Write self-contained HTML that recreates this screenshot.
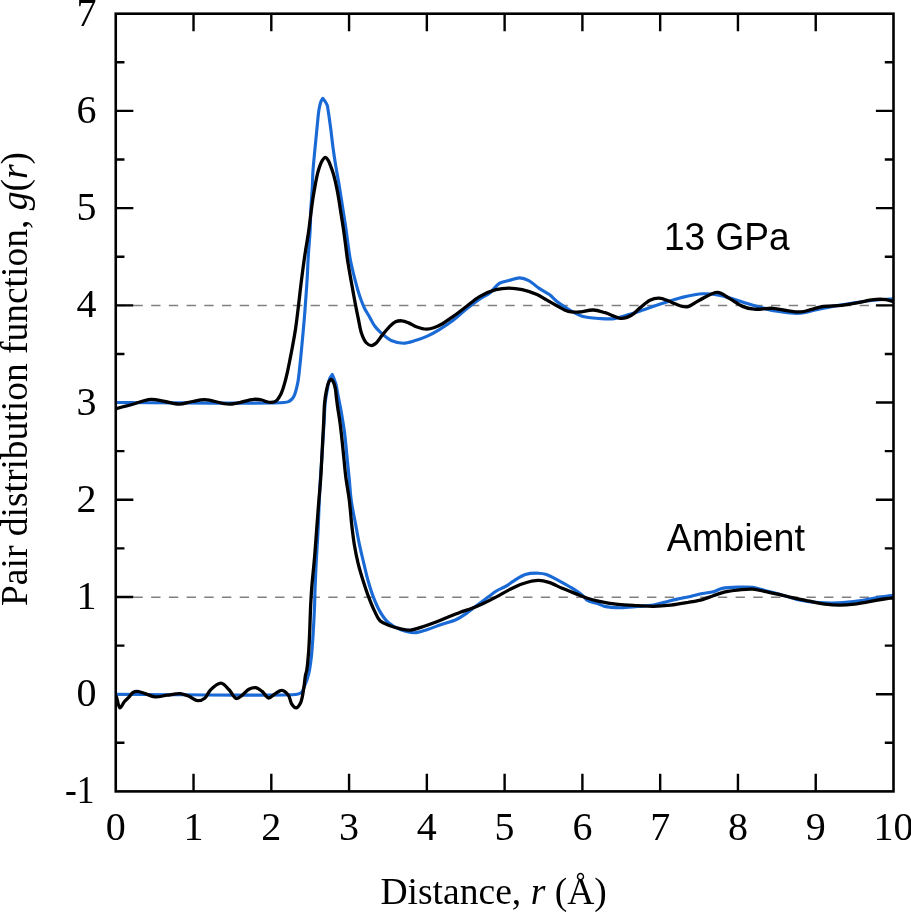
<!DOCTYPE html>
<html><head><meta charset="utf-8"><title>Pair distribution function</title>
<style>html,body{margin:0;padding:0;background:#fff;width:911px;height:912px;overflow:hidden}svg{display:block}.sf{font-family:"Liberation Serif",serif}.ss{font-family:"Liberation Sans",sans-serif}</style>
</head><body>
<svg width="911" height="912" viewBox="0 0 911 912"><line x1="115.75" y1="305.54" x2="893.50" y2="305.54" stroke="#808080" stroke-width="1.5" stroke-dasharray="9.35 8.36"/>
<line x1="115.75" y1="597.18" x2="893.50" y2="597.18" stroke="#808080" stroke-width="1.5" stroke-dasharray="9.35 8.36"/>
<path d="M115.75,694.19H133.35M893.50,694.19H875.90M115.75,596.98H133.35M893.50,596.98H875.90M115.75,499.76H133.35M893.50,499.76H875.90M115.75,402.55H133.35M893.50,402.55H875.90M115.75,305.34H133.35M893.50,305.34H875.90M115.75,208.12H133.35M893.50,208.12H875.90M115.75,110.91H133.35M893.50,110.91H875.90M115.75,742.79H124.45M893.50,742.79H884.80M115.75,645.58H124.45M893.50,645.58H884.80M115.75,548.37H124.45M893.50,548.37H884.80M115.75,451.16H124.45M893.50,451.16H884.80M115.75,353.94H124.45M893.50,353.94H884.80M115.75,256.73H124.45M893.50,256.73H884.80M115.75,159.52H124.45M893.50,159.52H884.80M115.75,62.31H124.45M893.50,62.31H884.80M193.53,791.40V773.80M193.53,13.70V31.30M271.30,791.40V773.80M271.30,13.70V31.30M349.07,791.40V773.80M349.07,13.70V31.30M426.85,791.40V773.80M426.85,13.70V31.30M504.62,791.40V773.80M504.62,13.70V31.30M582.40,791.40V773.80M582.40,13.70V31.30M660.17,791.40V773.80M660.17,13.70V31.30M737.95,791.40V773.80M737.95,13.70V31.30M815.73,791.40V773.80M815.73,13.70V31.30" stroke="#000" stroke-width="2.40" fill="none"/>
<clipPath id="pc"><rect x="115.75" y="13.70" width="777.75" height="777.70"/></clipPath><g clip-path="url(#pc)">
<path d="M115.80,694.20 C176.27,694.20 282.31,696.62 297.20,694.20 C299.35,693.85 299.85,693.66 300.80,693.00 C301.68,692.39 302.23,691.51 302.80,690.50 C303.50,689.26 303.90,687.54 304.50,686.00 C305.13,684.37 305.85,682.82 306.50,681.00 C307.26,678.88 308.03,676.86 308.70,674.00 C309.71,669.67 310.58,663.59 311.30,657.40 C312.20,649.63 312.75,639.80 313.30,631.00 C313.85,622.23 314.29,612.60 314.60,604.70 C314.85,598.22 314.85,593.68 315.10,587.00 C315.43,578.29 315.99,566.49 316.50,556.90 C316.97,548.13 317.58,540.02 318.00,531.70 C318.41,523.55 318.61,516.03 319.00,507.50 C319.43,497.92 319.96,485.75 320.50,477.00 C320.91,470.39 321.41,465.52 321.80,459.60 C322.21,453.43 322.52,447.01 322.90,440.70 C323.28,434.37 323.72,428.03 324.10,421.70 C324.48,415.39 324.55,408.70 325.20,402.80 C325.78,397.55 326.80,392.31 327.60,388.00 C328.23,384.62 328.53,381.42 329.50,379.00 C330.24,377.16 331.37,376.00 332.30,374.50 C332.97,376.17 333.68,377.83 334.30,379.50 C334.91,381.16 335.50,382.59 336.00,384.50 C336.64,386.94 337.05,390.10 337.60,393.00 C338.18,396.03 338.81,399.25 339.40,402.30 C339.97,405.25 340.53,407.86 341.10,411.00 C341.77,414.67 342.47,418.96 343.10,423.00 C343.74,427.12 344.33,430.77 344.90,435.50 C345.65,441.65 346.29,449.65 347.00,456.80 C347.72,464.05 348.50,471.43 349.20,478.70 C349.90,485.90 350.18,492.77 351.20,500.20 C352.31,508.29 354.35,517.59 355.80,525.40 C357.06,532.18 358.07,538.09 359.40,544.40 C360.73,550.72 362.33,557.15 363.80,563.30 C365.20,569.17 366.39,574.85 368.00,580.50 C369.60,586.11 371.34,591.81 373.40,597.10 C375.37,602.15 377.44,607.27 380.00,611.60 C382.33,615.55 384.66,619.26 387.90,622.20 C391.23,625.22 395.49,627.66 399.80,629.40 C404.26,631.20 409.59,632.75 414.30,632.70 C418.81,632.65 423.14,630.71 427.50,629.40 C431.91,628.08 436.02,626.37 440.60,624.80 C445.61,623.08 451.77,621.68 456.40,619.50 C460.41,617.61 464.08,614.90 467.00,612.90 C469.17,611.42 470.37,610.39 472.50,608.80 C475.48,606.58 479.44,603.60 483.20,600.80 C487.37,597.70 492.29,593.53 496.40,591.00 C499.65,589.00 502.70,588.09 505.60,586.40 C508.39,584.78 510.56,582.90 513.50,581.10 C517.00,578.95 521.11,575.81 525.30,574.50 C529.45,573.20 534.67,573.08 538.50,573.20 C541.48,573.30 543.51,573.56 546.40,574.50 C550.33,575.77 555.48,578.91 559.60,581.10 C563.33,583.08 566.53,584.82 570.10,587.00 C573.99,589.38 578.89,592.33 582.00,594.90 C584.30,596.80 585.14,599.08 587.50,600.50 C590.32,602.20 595.09,602.60 598.20,603.70 C600.69,604.58 602.07,605.74 604.80,606.40 C608.88,607.38 615.23,607.68 620.60,607.70 C626.19,607.72 632.11,606.86 637.70,606.40 C643.07,605.96 648.80,605.79 653.50,605.00 C657.38,604.35 660.30,603.32 664.00,602.40 C668.15,601.37 672.79,600.09 677.20,599.10 C681.59,598.12 686.11,597.45 690.40,596.50 C694.53,595.58 698.58,594.32 702.50,593.50 C706.16,592.74 709.81,592.59 713.20,591.70 C716.42,590.86 718.80,589.17 722.40,588.40 C727.17,587.38 734.21,587.26 739.50,587.10 C744.07,586.96 747.96,586.72 752.30,587.30 C756.92,587.92 761.45,589.62 766.40,590.90 C771.92,592.33 778.07,593.90 783.90,595.50 C789.77,597.10 795.59,599.31 801.50,600.50 C807.32,601.67 813.68,602.19 819.10,602.60 C823.73,602.95 827.65,603.03 832.00,603.00 C836.45,602.97 840.72,602.81 845.50,602.40 C850.96,601.94 857.17,601.10 863.00,600.20 C868.87,599.30 875.18,597.85 880.60,597.00 C885.22,596.28 889.20,595.87 893.50,595.30" fill="none" stroke="#1a6ad6" stroke-width="3.15" stroke-linejoin="round" stroke-linecap="round"/>
<path d="M115.80,696.00 C116.07,696.47 116.29,696.69 116.60,697.40 C117.41,699.25 118.43,707.66 119.90,707.90 C121.11,708.10 122.76,703.61 124.30,701.80 C125.70,700.15 127.27,698.93 128.70,697.40 C130.17,695.83 131.39,693.48 133.00,692.50 C134.34,691.68 135.73,691.37 137.40,691.40 C139.61,691.44 142.38,692.76 145.10,693.60 C148.20,694.56 151.49,696.58 155.00,696.90 C158.79,697.25 162.98,695.74 167.10,695.20 C171.40,694.64 176.39,693.25 180.30,693.60 C183.54,693.89 186.14,695.15 189.00,696.30 C191.97,697.50 195.01,700.54 197.80,700.70 C200.21,700.84 202.70,699.73 204.70,698.20 C207.04,696.41 208.01,692.40 210.50,690.00 C213.27,687.33 217.69,683.04 220.90,683.20 C223.85,683.35 226.57,687.31 229.10,689.80 C231.72,692.38 233.81,698.02 236.30,698.50 C238.24,698.87 240.33,696.60 242.30,695.20 C244.54,693.60 246.53,690.46 248.90,689.20 C250.97,688.10 253.36,687.29 255.50,687.60 C257.77,687.92 260.00,689.79 262.10,691.40 C264.42,693.18 266.40,697.77 268.70,698.00 C270.82,698.21 273.07,694.90 275.30,693.60 C277.44,692.35 279.68,690.12 281.80,690.30 C284.05,690.49 286.77,693.03 288.40,695.20 C290.15,697.52 290.18,701.79 291.70,704.00 C292.90,705.75 294.68,707.99 296.10,707.90 C297.62,707.81 299.33,705.21 300.50,702.90 C302.27,699.40 302.95,692.82 303.80,688.00 C304.58,683.54 304.87,678.20 305.50,675.00 C305.88,673.10 306.33,672.55 306.70,670.50 C307.47,666.27 308.20,657.38 308.70,650.80 C309.20,644.21 309.39,638.07 309.70,631.00 C310.06,622.86 310.30,612.60 310.70,604.70 C311.02,598.22 311.28,593.67 311.80,587.00 C312.48,578.29 313.79,566.49 314.60,556.90 C315.34,548.13 315.87,540.10 316.50,531.70 C317.13,523.30 317.72,515.23 318.40,506.50 C319.14,497.05 320.23,485.55 320.80,477.00 C321.24,470.44 321.39,465.52 321.70,459.60 C322.02,453.43 322.37,447.01 322.70,440.70 C323.03,434.38 323.38,428.03 323.70,421.70 C324.02,415.39 324.04,408.45 324.60,402.80 C325.06,398.16 325.73,393.87 326.50,390.20 C327.11,387.30 327.61,384.44 328.60,382.50 C329.31,381.11 330.36,379.28 331.20,379.30 C332.03,379.32 332.95,381.20 333.60,382.50 C334.40,384.11 334.85,386.20 335.30,388.40 C335.85,391.11 336.02,394.53 336.40,397.60 C336.78,400.69 337.11,403.45 337.60,406.90 C338.22,411.27 339.19,416.45 339.90,421.70 C340.70,427.63 341.42,434.37 342.10,440.70 C342.78,447.01 343.37,453.43 344.00,459.60 C344.60,465.52 345.01,470.79 345.80,477.00 C346.71,484.19 348.31,492.29 349.30,500.20 C350.33,508.41 350.90,517.60 351.80,525.40 C352.58,532.19 353.25,538.09 354.30,544.40 C355.35,550.73 356.57,557.05 358.10,563.30 C359.64,569.58 361.69,576.26 363.50,582.00 C365.06,586.97 366.41,591.08 368.20,595.80 C370.14,600.92 372.60,607.10 374.80,611.60 C376.53,615.14 377.57,618.48 380.00,620.80 C382.41,623.10 386.05,624.19 389.30,625.50 C392.64,626.84 396.27,627.93 399.80,628.70 C403.27,629.45 406.81,630.30 410.30,630.10 C413.85,629.89 417.21,628.52 420.90,627.40 C425.06,626.14 429.64,624.44 434.00,622.80 C438.41,621.14 442.80,619.25 447.20,617.50 C451.60,615.75 456.13,613.88 460.40,612.30 C464.38,610.83 468.19,609.77 472.00,608.30 C475.79,606.84 479.34,605.29 483.20,603.50 C487.45,601.53 492.03,599.21 496.40,596.90 C500.80,594.57 505.08,591.82 509.50,589.60 C513.84,587.42 518.02,585.22 522.70,583.70 C527.65,582.10 533.77,580.44 538.50,580.40 C542.35,580.37 545.37,581.26 549.00,582.40 C553.22,583.73 557.78,586.43 562.20,588.30 C566.58,590.16 571.09,591.90 575.40,593.60 C579.52,595.23 583.55,597.02 587.50,598.30 C591.14,599.48 594.07,600.22 598.20,601.10 C603.75,602.29 611.31,603.63 617.90,604.40 C624.47,605.16 631.47,605.36 637.70,605.70 C643.26,606.01 648.13,606.47 653.50,606.40 C659.09,606.33 664.91,605.85 670.60,605.20 C676.34,604.55 682.30,603.47 687.80,602.50 C692.90,601.60 698.03,600.85 702.50,599.60 C706.40,598.51 709.43,596.96 713.20,595.70 C717.35,594.32 721.97,592.69 726.40,591.70 C730.74,590.73 735.12,590.23 739.50,589.80 C743.88,589.37 748.32,588.79 752.70,589.10 C757.12,589.41 761.51,590.82 765.90,591.70 C770.28,592.58 774.64,593.41 779.00,594.40 C783.40,595.40 787.79,596.71 792.20,597.70 C796.59,598.68 801.35,599.48 805.40,600.30 C808.86,601.00 811.78,601.67 815.00,602.30 C818.25,602.94 821.18,603.65 824.80,604.10 C829.21,604.65 834.66,605.10 839.60,605.10 C844.56,605.10 849.55,604.67 854.50,604.10 C859.45,603.53 864.37,602.55 869.30,601.70 C874.24,600.85 879.72,599.68 884.10,599.00 C887.58,598.46 890.37,598.20 893.50,597.80" fill="none" stroke="#000" stroke-width="3.30" stroke-linejoin="round" stroke-linecap="round"/>
<path d="M115.80,402.50 C171.87,402.50 268.26,404.06 284.00,402.50 C286.60,402.24 287.20,402.16 288.50,401.60 C289.66,401.10 290.62,400.34 291.50,399.50 C292.39,398.65 293.06,397.96 293.80,396.50 C295.24,393.64 296.80,387.52 297.80,382.60 C298.89,377.24 299.23,371.52 299.90,365.50 C300.64,358.77 301.30,351.45 302.00,344.10 C302.74,336.28 303.57,327.43 304.20,319.90 C304.75,313.32 305.14,307.68 305.60,301.40 C306.08,294.89 306.56,288.66 307.00,281.50 C307.51,273.10 307.86,262.84 308.40,254.10 C308.90,246.07 309.68,238.70 310.10,231.00 C310.52,223.33 310.51,215.40 310.90,208.00 C311.26,201.10 311.96,194.28 312.30,188.00 C312.60,182.43 312.57,177.51 312.90,172.20 C313.23,166.78 313.80,161.27 314.30,155.80 C314.80,150.31 315.37,144.79 315.90,139.30 C316.43,133.82 316.96,128.09 317.50,122.90 C317.99,118.21 318.32,113.36 319.00,109.50 C319.53,106.50 320.09,103.62 320.90,101.60 C321.45,100.21 322.17,99.40 322.80,98.30 C323.60,99.37 324.47,100.34 325.20,101.50 C325.98,102.73 326.83,104.13 327.30,105.50 C327.74,106.80 327.74,107.91 328.00,109.50 C328.38,111.86 328.85,115.16 329.30,118.30 C329.82,121.92 330.35,125.71 330.90,130.00 C331.57,135.25 332.22,141.66 333.00,147.50 C333.78,153.36 334.65,159.25 335.60,165.10 C336.55,170.95 337.71,176.77 338.70,182.60 C339.68,188.40 340.62,194.43 341.50,200.00 C342.31,205.13 343.03,209.87 343.80,214.80 C344.57,219.73 345.39,224.61 346.10,229.60 C346.82,234.68 347.40,239.99 348.10,245.00 C348.77,249.78 349.40,254.63 350.20,259.00 C350.92,262.90 351.76,266.43 352.60,270.00 C353.40,273.42 354.23,276.67 355.10,280.00 C355.97,283.34 356.82,286.72 357.80,290.00 C358.76,293.22 359.76,296.40 360.90,299.50 C362.03,302.56 363.24,305.75 364.60,308.50 C365.83,310.97 367.12,312.76 368.60,315.30 C370.47,318.50 372.72,323.20 374.90,326.20 C376.65,328.60 378.29,330.26 380.30,332.20 C382.48,334.31 385.57,336.82 387.60,338.30 C388.94,339.27 389.51,339.84 391.10,340.50 C393.86,341.63 399.17,343.20 403.20,343.20 C407.23,343.20 411.31,341.67 415.30,340.50 C419.35,339.31 423.39,337.86 427.30,336.10 C431.29,334.31 434.97,332.22 439.00,329.80 C443.57,327.05 448.65,323.74 453.20,320.30 C457.78,316.84 461.95,312.64 466.40,309.10 C470.72,305.65 475.31,302.17 479.50,299.30 C483.16,296.80 486.83,295.31 490.10,292.70 C493.44,290.03 495.91,285.42 499.30,283.40 C502.28,281.63 505.68,281.50 509.00,280.60 C512.47,279.66 516.29,277.83 519.70,277.90 C522.87,277.97 525.83,279.10 528.80,280.60 C532.21,282.32 535.36,285.76 538.80,288.10 C542.23,290.43 546.26,292.24 549.40,294.60 C552.26,296.74 554.32,299.37 557.00,301.50 C559.69,303.64 562.17,305.34 565.50,307.40 C569.90,310.11 575.55,314.13 581.30,316.00 C587.36,317.97 595.16,318.21 601.10,318.60 C605.93,318.92 609.84,319.20 614.30,318.60 C619.06,317.96 623.88,316.09 628.80,314.60 C633.97,313.04 639.34,311.15 644.60,309.40 C649.87,307.65 655.48,305.70 660.40,304.10 C664.69,302.71 668.59,301.50 672.50,300.30 C676.17,299.17 679.06,298.06 683.20,297.10 C688.74,295.81 696.68,294.04 702.90,293.80 C708.44,293.58 713.98,294.42 718.70,295.20 C722.61,295.85 725.51,296.74 729.30,297.80 C733.77,299.06 738.67,300.85 743.80,302.40 C749.56,304.14 756.56,306.18 762.20,307.70 C766.95,308.98 771.07,310.18 775.40,311.00 C779.50,311.78 783.51,312.22 787.50,312.60 C791.38,312.97 794.78,313.60 799.00,313.30 C804.27,312.93 810.63,310.91 816.60,309.70 C822.79,308.45 829.19,307.07 835.50,305.90 C841.79,304.74 848.08,303.65 854.40,302.70 C860.72,301.75 866.97,300.83 873.40,300.20 C880.00,299.55 886.80,299.33 893.50,298.90" fill="none" stroke="#1a6ad6" stroke-width="3.15" stroke-linejoin="round" stroke-linecap="round"/>
<path d="M115.80,409.20 C116.07,409.00 116.13,408.83 116.60,408.60 C118.48,407.69 126.63,405.95 132.00,404.50 C137.91,402.90 144.77,399.76 150.60,399.40 C155.65,399.09 160.14,400.70 164.90,401.50 C169.67,402.30 174.54,404.24 179.20,404.20 C183.67,404.16 187.96,402.27 192.30,401.50 C196.56,400.74 200.08,399.51 205.00,399.60 C211.87,399.72 221.44,404.26 229.60,404.20 C237.71,404.14 247.85,399.64 253.80,399.30 C257.24,399.10 259.70,399.48 262.00,400.00 C263.76,400.40 265.00,401.30 266.50,401.70 C267.93,402.08 269.31,402.48 270.80,402.40 C272.46,402.32 274.44,402.11 276.00,401.00 C278.07,399.53 279.87,396.11 281.30,393.20 C282.86,390.03 283.78,386.14 284.80,382.60 C285.81,379.11 286.56,375.81 287.40,372.10 C288.34,367.96 289.26,363.14 290.10,358.90 C290.88,354.96 291.52,351.79 292.30,347.50 C293.31,341.95 294.60,335.06 295.60,328.40 C296.69,321.15 297.59,313.10 298.50,305.60 C299.39,298.31 300.03,291.78 301.00,284.00 C302.14,274.84 303.65,263.28 305.00,254.10 C306.16,246.22 307.52,238.98 308.50,232.20 C309.34,226.35 309.88,221.27 310.60,215.80 C311.32,210.31 311.97,204.78 312.80,199.30 C313.63,193.82 314.70,187.63 315.60,182.90 C316.29,179.27 316.85,176.22 317.60,173.30 C318.24,170.79 318.90,168.58 319.70,166.40 C320.45,164.36 321.16,162.19 322.20,160.60 C323.08,159.25 324.28,157.31 325.30,157.30 C326.28,157.29 327.39,159.10 328.20,160.30 C329.10,161.65 329.57,163.24 330.30,165.10 C331.28,167.58 332.51,170.95 333.40,173.90 C334.27,176.79 334.93,179.68 335.60,182.60 C336.27,185.52 336.85,188.48 337.40,191.40 C337.95,194.28 338.36,196.74 338.90,200.00 C339.60,204.27 340.43,209.87 341.20,214.80 C341.97,219.73 342.78,224.66 343.50,229.60 C344.22,234.53 344.85,239.47 345.50,244.40 C346.15,249.33 346.74,254.72 347.40,259.20 C347.95,262.95 348.52,266.08 349.10,269.50 C349.68,272.91 350.30,276.33 350.90,279.70 C351.50,283.03 352.10,286.30 352.70,289.60 C353.30,292.90 353.88,296.20 354.50,299.50 C355.12,302.80 355.75,306.11 356.40,309.40 C357.05,312.68 357.65,315.66 358.40,319.20 C359.29,323.41 359.99,328.90 361.40,333.00 C362.62,336.54 364.01,340.36 366.00,342.50 C367.53,344.14 369.62,345.60 371.40,345.60 C373.12,345.60 374.88,344.12 376.50,342.70 C378.57,340.88 380.26,337.53 382.30,335.00 C384.39,332.40 386.60,329.57 388.90,327.30 C391.02,325.21 393.17,322.86 395.50,321.80 C397.51,320.89 399.67,320.65 401.80,320.80 C404.07,320.96 406.39,321.96 408.70,322.90 C411.22,323.92 413.49,325.78 416.30,326.80 C419.45,327.95 423.52,329.20 426.80,329.20 C429.70,329.20 432.47,328.17 435.00,327.30 C437.34,326.50 439.08,325.66 441.50,324.30 C444.90,322.38 449.22,319.23 453.20,316.40 C457.50,313.34 462.01,309.80 466.40,306.50 C470.78,303.20 474.70,299.37 479.50,296.60 C484.50,293.72 490.65,291.10 495.90,289.70 C500.42,288.50 504.62,288.10 509.00,288.10 C513.39,288.10 517.73,288.70 522.20,289.70 C527.05,290.78 532.83,292.76 537.00,294.60 C540.27,296.04 542.44,297.63 545.40,299.30 C548.73,301.17 552.32,303.34 556.00,305.30 C559.90,307.38 564.18,310.33 568.20,311.40 C571.73,312.34 574.93,312.15 578.70,312.00 C583.15,311.82 588.62,309.80 593.20,310.00 C597.38,310.18 600.83,311.49 605.10,312.70 C610.23,314.15 616.99,318.36 621.80,318.40 C625.43,318.43 628.39,316.99 631.40,315.30 C634.70,313.45 637.49,309.93 640.60,307.40 C643.66,304.90 646.63,301.73 649.90,300.20 C652.83,298.83 656.04,298.11 659.10,298.20 C662.18,298.29 665.51,299.79 668.30,300.80 C670.75,301.69 672.41,302.89 675.00,303.80 C678.34,304.98 682.92,307.35 686.80,306.90 C690.93,306.42 694.46,302.59 699.00,300.40 C704.48,297.76 712.06,292.23 717.50,292.40 C721.91,292.54 725.30,296.17 729.30,298.40 C733.62,300.80 738.08,304.59 742.50,306.40 C746.42,308.01 749.89,308.79 754.30,309.20 C759.74,309.70 767.06,307.98 772.80,308.30 C777.86,308.58 782.32,310.00 787.00,310.60 C791.55,311.19 796.20,312.17 800.50,311.90 C804.51,311.65 808.22,310.21 812.00,309.30 C815.69,308.41 818.73,307.16 822.90,306.50 C828.30,305.64 835.74,305.97 841.80,305.30 C847.48,304.67 852.85,303.67 858.20,302.70 C863.37,301.76 868.55,300.09 873.40,299.60 C877.77,299.16 882.37,299.15 886.00,299.60 C888.85,299.96 891.00,300.87 893.50,301.50" fill="none" stroke="#000" stroke-width="3.30" stroke-linejoin="round" stroke-linecap="round"/>
</g>
<rect x="115.75" y="13.70" width="777.75" height="777.70" fill="none" stroke="#000" stroke-width="2.6"/>
<g class="sf" font-size="40.0" fill="#000"><text x="115.75" y="839.50" text-anchor="middle">0</text><text x="193.53" y="839.50" text-anchor="middle">1</text><text x="271.30" y="839.50" text-anchor="middle">2</text><text x="349.07" y="839.50" text-anchor="middle">3</text><text x="426.85" y="839.50" text-anchor="middle">4</text><text x="504.62" y="839.50" text-anchor="middle">5</text><text x="582.40" y="839.50" text-anchor="middle">6</text><text x="660.17" y="839.50" text-anchor="middle">7</text><text x="737.95" y="839.50" text-anchor="middle">8</text><text x="815.73" y="839.50" text-anchor="middle">9</text><text x="893.50" y="839.50" text-anchor="middle">10</text><text x="65.00" y="803.40" textLength="29.5" lengthAdjust="spacingAndGlyphs">-1</text><text x="96.60" y="706.19" text-anchor="end">0</text><text x="96.60" y="608.98" text-anchor="end">1</text><text x="96.60" y="511.76" text-anchor="end">2</text><text x="96.60" y="414.55" text-anchor="end">3</text><text x="96.60" y="317.34" text-anchor="end">4</text><text x="96.60" y="220.12" text-anchor="end">5</text><text x="96.60" y="122.91" text-anchor="end">6</text><text x="96.60" y="25.70" text-anchor="end">7</text></g>
<text x="380.4" y="904" class="sf" font-size="38.5" textLength="226.4" lengthAdjust="spacingAndGlyphs">Distance, <tspan font-style="italic">r</tspan> (Å)</text>
<text transform="translate(27,606) rotate(-90)" class="sf" font-size="38.5" textLength="454" lengthAdjust="spacingAndGlyphs">Pair distribution function, <tspan font-style="italic">g</tspan>(<tspan font-style="italic">r</tspan>)</text>
<text x="663.9" y="250.3" class="ss" font-size="38" textLength="125.7" lengthAdjust="spacingAndGlyphs">13 GPa</text>
<text x="666.8" y="551.4" class="ss" font-size="38" textLength="138.1" lengthAdjust="spacingAndGlyphs">Ambient</text></svg>
</body></html>
